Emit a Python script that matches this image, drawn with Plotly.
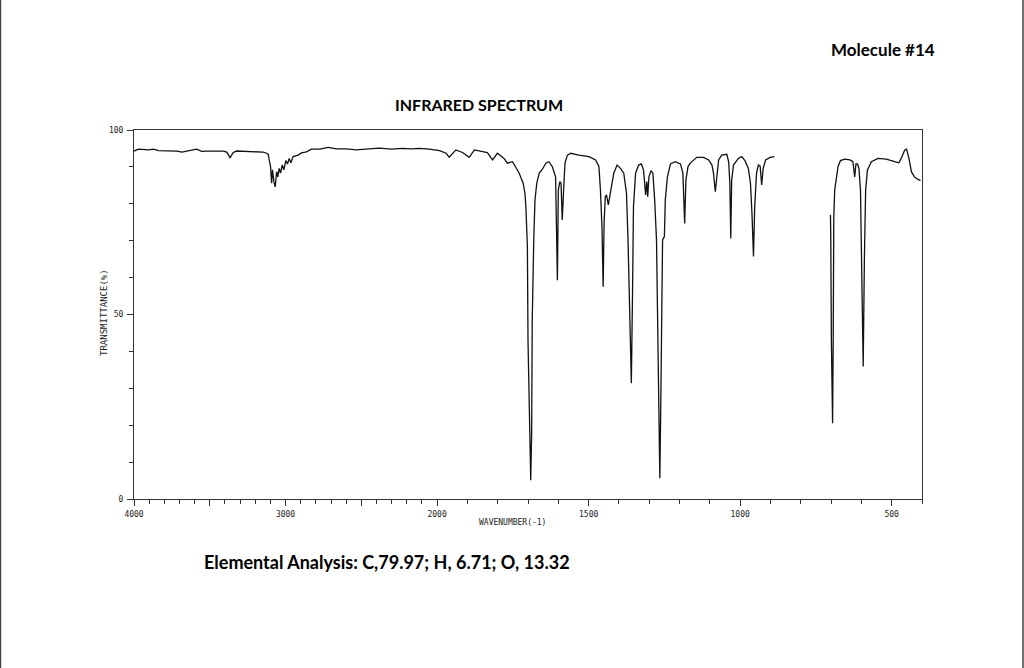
import plotly.graph_objects as go

# ---- data (wavenumber in cm-1, transmittance in %) ----
wavenumber = [
    4000, 3970, 3904, 3871, 3838, 3717, 3684, 3630, 3586, 3553, 3520, 3410, 3388, 3366, 3345, 3322,
    3200, 3147, 3125, 3114, 3108, 3099, 3092, 3086, 3077, 3068, 3059, 3051, 3042, 3033, 3022, 3011,
    2998, 2987, 2976, 2965, 2950, 2917, 2895, 2862, 2829, 2774, 2720, 2664, 2599, 2533, 2450, 2380,
    2300, 2230, 2170, 2117, 2051, 1992, 1970, 1960, 1938, 1916, 1894, 1877, 1834, 1817, 1801, 1779,
    1768, 1751, 1729, 1716, 1710, 1707, 1702, 1700, 1694, 1691, 1688, 1686, 1681, 1677, 1671, 1663,
    1653, 1641, 1631, 1620, 1609, 1603, 1600, 1595, 1591, 1587, 1582, 1578, 1570, 1559, 1532, 1499,
    1477, 1466, 1461, 1456, 1452, 1449, 1445, 1441, 1435, 1428, 1417, 1406, 1395, 1384, 1375, 1370,
    1364, 1359, 1355, 1352, 1345, 1335, 1326, 1319, 1315, 1312, 1308, 1305, 1301, 1294, 1288, 1282,
    1276, 1272, 1268, 1265, 1262, 1259, 1256, 1250, 1247, 1240, 1230, 1214, 1197, 1189, 1183, 1179,
    1172, 1164, 1154, 1143, 1121, 1104, 1093, 1088, 1082, 1077, 1071, 1061, 1044, 1038, 1034, 1031,
    1028, 1022, 1014, 1006, 995, 984, 973, 966, 961, 956, 952, 946, 940, 934, 929, 924,
    916, 901, 887, None,
    702, 701, 699, 695, 693, 691, 688, 682, 677, 669, 655, 638, 628, 622, 618, 613,
    608, 603, 599, 594, 590, 586, 580, 567, 545, 518, 490, 476, 466, 457, 451, 443,
    435, 424, 413, 405,
]
transmittance = [
    94.3, 94.8, 94.6, 94.8, 94.4, 94.3, 94.0, 94.4, 94.8, 94.2, 94.3, 94.3, 94.0, 92.5, 93.9, 94.3,
    94.2, 94.0, 93.7, 93.4, 91.9, 90.1, 85.6, 89.2, 86.0, 84.6, 88.7, 87.3, 89.6, 88.3, 90.5, 89.2,
    91.7, 90.8, 92.3, 91.1, 92.8, 93.2, 93.8, 94.1, 94.8, 94.8, 95.3, 94.9, 94.9, 94.6, 94.9, 95.1,
    94.8, 95.0, 94.9, 95.0, 94.8, 94.4, 93.7, 92.6, 94.6, 93.9, 92.6, 94.6, 93.9, 91.9, 93.7, 92.3,
    91.0, 91.4, 88.3, 85.6, 82.8, 79.2, 68.4, 43.1, 17.8, 5.1, 17.8, 48.5, 70.2, 81.0, 85.6, 88.3,
    89.3, 91.0, 91.4, 90.1, 87.3, 59.3, 83.7, 86.0, 85.6, 75.6, 84.6, 91.0, 93.2, 93.7, 93.2, 92.8,
    91.9, 90.1, 83.7, 73.8, 57.5, 74.7, 81.9, 82.4, 79.7, 82.8, 88.3, 90.5, 89.6, 88.3, 82.8, 70.2,
    43.1, 31.4, 56.6, 79.2, 88.3, 90.5, 90.8, 89.2, 85.6, 82.4, 86.0, 81.9, 87.3, 89.0, 88.3, 81.0,
    70.2, 43.1, 16.0, 5.6, 25.0, 52.1, 70.2, 71.1, 81.0, 87.3, 90.8, 91.4, 90.8, 88.3, 74.7, 86.4,
    90.1, 91.1, 91.7, 92.6, 92.6, 91.9, 90.5, 88.3, 83.3, 88.3, 91.9, 93.2, 93.4, 91.4, 85.6, 70.6,
    86.4, 90.5, 91.4, 92.3, 92.8, 91.7, 89.6, 85.6, 77.4, 65.7, 79.2, 88.3, 90.5, 90.2, 85.1, 89.6,
    91.9, 92.6, 92.8, None,
    77.0, 71.1, 43.1, 20.5, 43.1, 76.5, 83.7, 87.3, 90.1, 91.7, 92.1, 91.9, 91.4, 87.3, 90.8, 90.8,
    89.6, 83.7, 56.6, 35.9, 65.7, 83.7, 89.2, 91.4, 92.3, 92.1, 91.4, 91.1, 92.8, 94.6, 94.8, 92.3,
    88.7, 87.2, 86.6, 86.3,
]

x_tick_labels = ["4000", "3000", "2000", "1500", "1000", "500"]
x_tick_wn = [4000, 3000, 2000, 1500, 1000, 500]
x_long_wn = [3500, 2500]
y_tick_labels = ["0", "50", "100"]
y_tick_vals = [0, 50, 100]

title_text = "INFRARED SPECTRUM"
corner_text = "Molecule #14"
analysis_text = "Elemental Analysis: C,79.97; H, 6.71; O, 13.32"
x_title = "WAVENUMBER(-1)"
y_title = "TRANSMITTANCE(%)"


# IR chart scale: 4000-2000 compressed, 2000-400 expanded x2
def scale(wn):
    if wn is None:
        return None
    return (4000 - wn) if wn >= 2000 else 2000 + (2000 - wn) * 2


u = [scale(w) for w in wavenumber]
minor_wn = list(range(4000, 399, -100))

W, H = 1024, 668
L, R, T, B = 134, 102, 130, 169
PW, PH = W - L - R, H - T - B


def px(x):
    return (x - L) / PW


def py(y):
    return (H - B - y) / PH


fig = go.Figure()
fig.add_trace(go.Scatter(
    x=u, y=transmittance, mode="lines", connectgaps=False,
    line=dict(color="#111111", width=1.3), hoverinfo="skip", showlegend=False,
))
fig.add_trace(go.Scatter(
    x=[0, 5200], y=[0, 100], xaxis="x2", yaxis="y2", mode="markers",
    marker=dict(opacity=0), hoverinfo="skip", showlegend=False,
))

tickfont = dict(family="DejaVu Sans Mono", size=8, color="#222222")
axcol = "#333333"

fig.update_layout(
    width=W, height=H, margin=dict(l=L, r=R, t=T, b=B, pad=0),
    paper_bgcolor="white", plot_bgcolor="white",
    xaxis=dict(range=[0, 5200], showgrid=False, zeroline=False, showline=True, mirror=True,
               linecolor=axcol, linewidth=1.2, ticks="outside", ticklen=4, tickwidth=1,
               tickcolor=axcol, tickvals=[scale(w) for w in minor_wn], showticklabels=False),
    xaxis2=dict(range=[0, 5200], overlaying="x", side="bottom", showgrid=False, zeroline=False,
                showline=False, ticks="outside", ticklen=6, tickwidth=1, tickcolor=axcol,
                tickvals=[scale(w) for w in x_tick_wn + x_long_wn],
                ticktext=x_tick_labels + ["", ""], tickfont=tickfont, ticklabelstandoff=1),
    yaxis=dict(range=[0, 100], showgrid=False, zeroline=False, showline=True, mirror=True,
               linecolor=axcol, linewidth=1.2, ticks="outside", ticklen=4, tickwidth=1,
               tickcolor=axcol, tickvals=list(range(0, 101, 10)), showticklabels=False),
    yaxis2=dict(range=[0, 100], overlaying="y", side="left", showgrid=False, zeroline=False,
                showline=False, ticks="outside", ticklen=6, tickwidth=1, tickcolor=axcol,
                tickvals=y_tick_vals, ticktext=y_tick_labels, tickfont=tickfont,
                ticklabelstandoff=2),
)

textfont = "Lato, 'Open Sans', sans-serif"
fig.add_annotation(x=px(479), y=py(104), xref="paper", yref="paper", text="<b>%s</b>" % title_text,
                   showarrow=False, font=dict(family=textfont, size=16, color="black"),
                   xanchor="center", yanchor="middle")
fig.add_annotation(x=px(883), y=py(50), xref="paper", yref="paper", text="<b>%s</b>" % corner_text,
                   showarrow=False, font=dict(family=textfont, size=17, color="black"),
                   xanchor="center", yanchor="middle")
fig.add_annotation(x=px(202), y=py(562), xref="paper", yref="paper", text="<b>%s</b>" % analysis_text,
                   showarrow=False, font=dict(family=textfont, size=18, color="black"),
                   xanchor="left", yanchor="middle")
fig.add_annotation(x=px(512), y=py(522), xref="paper", yref="paper", text=x_title,
                   showarrow=False, font=dict(family="DejaVu Sans Mono", size=8, color="#222222"),
                   xanchor="center", yanchor="middle")
fig.add_annotation(x=px(104), y=py(313), xref="paper", yref="paper", text=y_title, textangle=-90,
                   showarrow=False, font=dict(family="DejaVu Sans Mono", size=9, color="#222222"),
                   xanchor="center", yanchor="middle")

# page frame lines (left and right edges)
for xe in (0.5, 1023):
    fig.add_shape(type="line", xref="paper", yref="paper", x0=px(xe), x1=px(xe),
                  y0=py(0), y1=py(668), line=dict(color="#444444", width=1.5))

fig.write_html("out.html")
